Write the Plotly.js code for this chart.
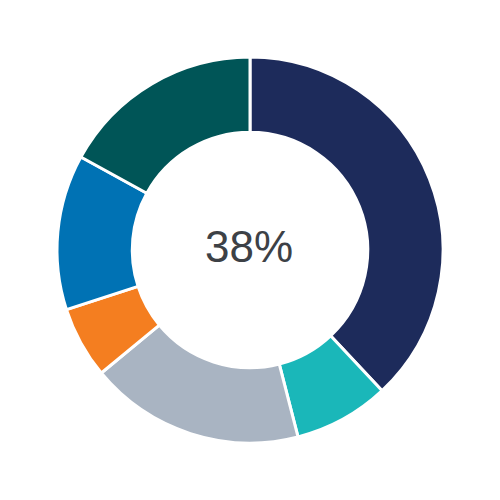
<!DOCTYPE html>
<html>
<head>
<meta charset="utf-8">
<script src="https://cdn.plot.ly/plotly-3.0.1.min.js"></script>
<style>
  html, body { margin: 0; padding: 0; background: #fff; }
  #chart { width: 500px; height: 500px; }
</style>
</head>
<body>
<div id="chart"></div>
<script>
// slice shares, clockwise from 12 o'clock
const labels = ['A', 'B', 'C', 'D', 'E', 'F'];
const values = [38, 8, 18, 6, 13, 17];
const colors = ['#1d2b5b', '#1ab7b9', '#a9b4c2', '#f47e20', '#0072b4', '#005557'];
const centerText = '38%';

const trace = {
    type: 'pie',
    labels: labels,
    values: values,
    hole: 0.61,
    sort: false,
    direction: 'clockwise',
    rotation: 0,
    textinfo: 'none',
    hoverinfo: 'none',
    marker: {
        colors: colors,
        line: { color: '#ffffff', width: 3 }
    }
};

const layout = {
    width: 500,
    height: 500,
    margin: { l: 57, r: 57, t: 57, b: 57 },
    showlegend: false,
    paper_bgcolor: '#ffffff',
    annotations: [{
        text: centerText,
        x: 0.5, y: 0.5,
        xref: 'paper', yref: 'paper',
        yshift: 4,
        xshift: -1,
        showarrow: false,
        font: { family: 'Liberation Sans, Arial, sans-serif', size: 44, color: '#3d4146' }
    }]
};

Plotly.newPlot('chart', [trace], layout, { staticPlot: true });
</script>
</body>
</html>
